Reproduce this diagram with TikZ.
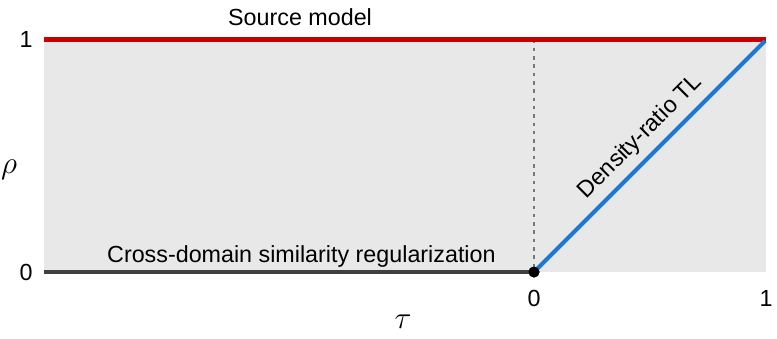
\RequirePackage{fix-cm}
\documentclass[tikz,border=0pt]{standalone}
\usepackage{fontspec}
\setmainfont{Liberation Sans}
\definecolor{panel}{RGB}{232,232,232}
\definecolor{srcred}{RGB}{196,0,0}
\definecolor{drblue}{RGB}{30,120,208}
\definecolor{cdgray}{RGB}{64,64,64}
\definecolor{dashgray}{RGB}{120,120,120}
\begin{document}
\begin{tikzpicture}[x=1pt,y=-1pt,
  lbl/.style={inner sep=0pt,font=\fontsize{23.3}{28}\selectfont},
  mathlbl/.style={inner sep=0pt,font=\fontsize{15}{18}\selectfont,scale=2.1},
  thickline/.style={line width=4.5pt},
]
\useasboundingbox (0,0) rectangle (777,338);
% panel
\fill[panel] (44,39) rectangle (766,272);
% key points
\coordinate (tl) at (44,39.5);
\coordinate (tr) at (766,39.5);
\coordinate (bl) at (44,272);
\coordinate (top0) at (534,39.5);
\coordinate (tr2) at (765,41);
\node[circle,fill=black,inner sep=0pt,minimum size=11pt] (origin) at (534,272) {};
% dashed guide
\draw[dashgray,line width=1.5pt,dash pattern=on 3.5pt off 4.8pt] (top0) -- (origin.center);
% curves
\draw[srcred,thickline] (tl) -- (tr);
\draw[cdgray,thickline] (bl) -- (origin.center);
\draw[drblue,line width=4pt] (origin.center) -- (tr2);
\node[circle,fill=black,inner sep=0pt,minimum size=11pt] at (origin) {};
% axis labels
\node[lbl] (y1) at (26,39) {1};
\node[lbl] (y0) at (26,272) {0};
\node[lbl] (x0) at (534,298) {0};
\node[lbl] (x1) at (766,298) {1};
\node[mathlbl] (rho) at (9,170) {$\rho$};
\node[mathlbl] (tau) at (403,322) {$\tau$};
% curve labels
\node[lbl,anchor=base west] (src) at (228,25) {Source model};
\node[lbl,anchor=base west] (cd) at (107,262) {Cross-domain similarity regularization};
\node[lbl,anchor=base,rotate=45] (dr) at (645,141) {Density-ratio TL};
\end{tikzpicture}
\end{document}
